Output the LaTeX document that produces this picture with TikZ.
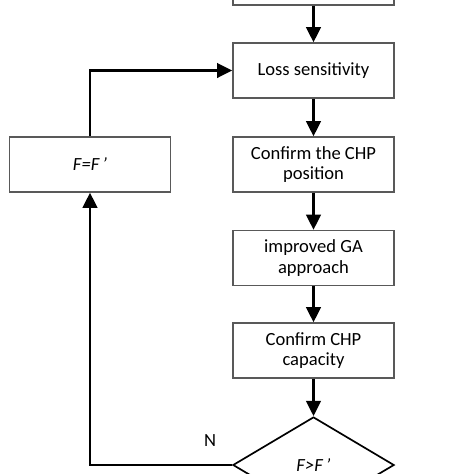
\documentclass[tikz,border=0pt]{standalone}
\usepackage{fontspec}
\setmainfont{Carlito}
\usetikzlibrary{positioning}
\usetikzlibrary{shapes.geometric, arrows.meta}
\tikzstyle{process} = [rectangle, minimum width=4.03cm, minimum height=1.375cm, text centered, align=center, draw=black!65, line width=0.9pt, inner sep=2pt]
\tikzstyle{decision} = [diamond, aspect=1.68, minimum width=4.03cm, minimum height=2.4cm, inner sep=0pt, draw=black, line width=1.2pt]
\tikzstyle{arrow} = [line width=2pt, -{Triangle[length=0.38cm,width=0.36cm]}]

\begin{document}
\begin{tikzpicture}[x=0.025cm, y=-0.025cm, font=\fontsize{13.2}{14.5}\selectfont]
\useasboundingbox (0,0) rectangle (474,474);
\clip (0,0) rectangle (474,474);
% main column
\node[process] (start) at (313.5,-22.5) {};
\node[process] (loss) at (313.5,70.5) {Loss sensitivity};
\node[process] (pos) at (313.5,164.5) {Confirm the CHP\\position};
\node[process] (ga) at (313.5,258) {improved GA\\approach};
\node[process] (cap) at (313.5,350.5) {Confirm CHP\\capacity};
\node[decision] (cmp) at (313.5,465) {\textit{F>F\,’}};
% loop back
\node[process] (upd) at (90,164.5) {\textit{F=F\,’}};
\node (no) at (210,441) {N};
\draw[arrow] (start) -- (loss);
\draw[arrow] (loss) -- (pos);
\draw[arrow] (pos) -- (ga);
\draw[arrow] (ga) -- (cap);
\draw[arrow] (cap) -- (cmp);
\draw[arrow] (cmp.west) -| (upd.south);
\draw[arrow] (upd.north) |- (loss.west);
\end{tikzpicture}
\end{document}
